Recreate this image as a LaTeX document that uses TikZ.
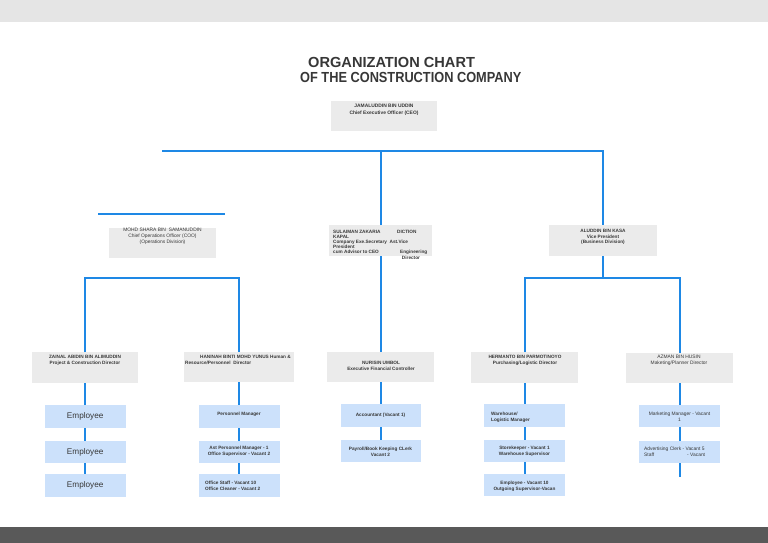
\documentclass[tikz,border=0pt]{standalone}
\usepackage{fontspec}
\setmainfont{Liberation Sans}
\definecolor{linec}{RGB}{30,136,229}
\definecolor{gfill}{RGB}{235,235,235}
\definecolor{bfill}{RGB}{204,225,251}
\definecolor{txt}{RGB}{55,55,55}
\definecolor{topband}{RGB}{229,229,229}
\definecolor{botband}{RGB}{89,89,89}
\tikzset{
  gbox/.style={fill=gfill, draw=none, inner sep=0pt, anchor=north west},
  bbox/.style={fill=bfill, draw=none, inner sep=0pt, anchor=north west},
  conn/.style={draw=linec, line width=1.8pt},
  tb/.style={inner sep=0pt, text=txt, align=center, font=\fontsize{4.7}{5.8}\selectfont\bfseries},
  tr/.style={inner sep=0pt, text=txt, align=center, font=\fontsize{4.9}{5.8}\selectfont},
  tl/.style={inner sep=0pt, text=txt, align=left, anchor=west, font=\fontsize{4.7}{5.8}\selectfont\bfseries},
  emp/.style={inner sep=0pt, text=txt, font=\fontsize{8.2}{9}\selectfont},
  title/.style={inner sep=0pt, anchor=base west, text=txt, font=\fontsize{14.6}{16}\selectfont\bfseries}
}
\begin{document}
\begin{tikzpicture}[x=1pt,y=-1pt]
\useasboundingbox (0,0) rectangle (768,543);
\fill[white] (0,0) rectangle (768,543);
\fill[topband] (0,0) rectangle (768,22);
\fill[botband] (0,527) rectangle (768,543);

% titles
\node[title] (t1) at (308,67) {ORGANIZATION CHART};
\node[title] (t2) at (300,82) {\scalebox{0.875}[1]{OF THE CONSTRUCTION COMPANY}};

% row 1-2 boxes
\node[gbox, minimum width=106pt, minimum height=30pt] (ceo) at (331,101) {};
\node[gbox, minimum width=107pt, minimum height=30pt] (mohd) at (109,228) {};
\node[gbox, minimum width=103pt, minimum height=31pt] (sul) at (329,225) {};
\node[gbox, minimum width=108pt, minimum height=31pt] (alu) at (549,225) {};

% row 3 boxes
\node[gbox, minimum width=106pt, minimum height=31pt] (zai) at (32,352) {};
\node[gbox, minimum width=110pt, minimum height=30pt] (han) at (184,352) {};
\node[gbox, minimum width=107pt, minimum height=30pt] (nur) at (327,352) {};
\node[gbox, minimum width=107pt, minimum height=31pt] (her) at (471,352) {};
\node[gbox, minimum width=107pt, minimum height=30pt] (azm) at (626,353) {};

% row 4 boxes
\node[bbox, minimum width=81pt, minimum height=23pt] (e1) at (44.5,405) {};
\node[bbox, minimum width=81pt, minimum height=22pt] (e2) at (44.5,441) {};
\node[bbox, minimum width=81pt, minimum height=23pt] (e3) at (44.5,474) {};
\node[bbox, minimum width=81pt, minimum height=23pt] (h1) at (198.5,405) {};
\node[bbox, minimum width=81pt, minimum height=22pt] (h2) at (198.5,441) {};
\node[bbox, minimum width=81pt, minimum height=23pt] (h3) at (198.5,474) {};
\node[bbox, minimum width=80pt, minimum height=23pt] (n1) at (340.5,404) {};
\node[bbox, minimum width=80pt, minimum height=22pt] (n2) at (340.5,440) {};
\node[bbox, minimum width=81pt, minimum height=23pt] (w1) at (484,404) {};
\node[bbox, minimum width=81pt, minimum height=22pt] (w2) at (484,440) {};
\node[bbox, minimum width=81pt, minimum height=22pt] (w3) at (484,474) {};
\node[bbox, minimum width=81pt, minimum height=22pt] (m1) at (639,405) {};
\node[bbox, minimum width=81pt, minimum height=22pt] (m2) at (639,441) {};

% connectors
\coordinate (topl) at (162,151);
\draw[conn] (topl) -| (alu.north);
\draw[conn] (sul.north) -- (sul.north |- topl);
\coordinate (l2a) at (98,214);
\coordinate (l2b) at (225,214);
\draw[conn] (l2a) -- (l2b);
\draw[conn] (sul.south) -- (nur.north);
\coordinate (lbar) at (160,278);
\draw[conn] (zai.north) |- (lbar) -| (han.north);
\coordinate (rbar) at (602,278);
\draw[conn] (her.north) |- (rbar) -| (azm.north);
\draw[conn] (alu.south) -- (alu.south |- rbar);
\draw[conn] (zai.south) -- (e1.north);
\draw[conn] (e1.south) -- (e2.north);
\draw[conn] (e2.south) -- (e3.north);
\draw[conn] (han.south) -- (h1.north);
\draw[conn] (h1.south) -- (h2.north);
\draw[conn] (h2.south) -- (h3.north);
\draw[conn] (nur.south) -- (n1.north);
\draw[conn] (n1.south) -- (n2.north);
\draw[conn] (her.south) -- (w1.north);
\draw[conn] (w1.south) -- (w2.north);
\draw[conn] (w2.south) -- (w3.north);
\draw[conn] (azm.south) -- (m1.north);
\draw[conn] (m1.south) -- (m2.north);
\coordinate (mtail) at (679.5,477);
\draw[conn] (m2.south) -- (m2.south |- mtail);

% texts row 1-2
\node[tb, font=\fontsize{4.9}{7}\selectfont\bfseries] (ceoT) at (384,109.5) {JAMALUDDIN BIN UDDIN\\Chief Executive Officer (CEO)};
\node[tr] (mohdT) at (162.5,236.5) {MOHD SHARA BIN\ \ SAMANUDDIN\\Chief Operations Officer (COO)\\(Operations Division)};
\node[tl] (s1) at (333,232) {SULAIMAN ZAKARIA};
\node[tl] (s1b) at (397,232) {DICTION};
\node[tl] (s2) at (333,237) {KAPAL};
\node[tl] (s3) at (333,242) {Company Exe.Secretary\ \ Ast.Vice};
\node[tl] (s4) at (333,246.5) {President};
\node[tl] (s5) at (333,252) {cum Advisor to CEO};
\node[tl] (s5b) at (400,252) {Engineering};
\node[tb] (s6) at (411,257.5) {Director};
\node[tb] (aluT) at (603,237) {ALUDDIN BIN KASA\\Vice President\\(Business Division)};

% texts row 3
\node[tb] (zaiT) at (85,360) {ZAINAL ABIDIN BIN ALIMUDDIN\\Project \& Construction Director};
\node[tl] (hanT1) at (200,357) {HANINAH BINTI MOHD YUNUS Human \&};
\node[tl] (hanT2) at (185,363) {Resource/Personnel\ \ Director};
\node[tb] (nurT) at (381,366) {NURISIN UMBOL\\Executive Financial Controller};
\node[tb] (herT) at (525,360) {HERMANTO BIN PARMOTINOYO\\Purchasing/Logistic Director};
\node[tr] (azmT) at (679,360.5) {AZMAN BIN HUSIN\\Maketing/Planner Director};

% texts row 4
\node[emp] (e1T) at (e1.center) {Employee};
\node[emp] (e2T) at (e2.center) {Employee};
\node[emp] (e3T) at (e3.center) {Employee};
\node[tb] (h1T) at (239,414) {Personnel Manager};
\node[tb] (h2T) at (239,451) {Ast Personnel Manager - 1\\Office Supervisor - Vacant 2};
\node[tl] (h3T) at (205,485.5) {Office Staff - Vacant 10\\Office Cleaner - Vacant 2};
\node[tb] (n1T) at (380.5,415) {Accountant (Vacant 1)};
\node[tb] (n2T) at (380.5,452) {Payroll/Book Keeping CLerk\\Vacant 2};
\node[tl] (w1T) at (491,417.5) {Warehouse/\\Logistic Manager};
\node[tb] (w2T) at (524.5,451.5) {Storekeeper - Vacant 1\\Warehouse Supervisor};
\node[tb] (w3T) at (524.5,486) {Employee - Vacant 10\\Outgoing Supervisor-Vacan};
\node[tr] (m1T) at (679.5,417) {Marketing Manager - Vacant\\1};
\node[tl, font=\fontsize{4.9}{5.8}\selectfont] (m2T1) at (644,449) {Advertising Clerk - Vacant 5};
\node[tl, font=\fontsize{4.9}{5.8}\selectfont] (m2T2) at (644,455) {Staff};
\node[tl, font=\fontsize{4.9}{5.8}\selectfont] (m2T3) at (687,455) {- Vacant};
\end{tikzpicture}
\end{document}
